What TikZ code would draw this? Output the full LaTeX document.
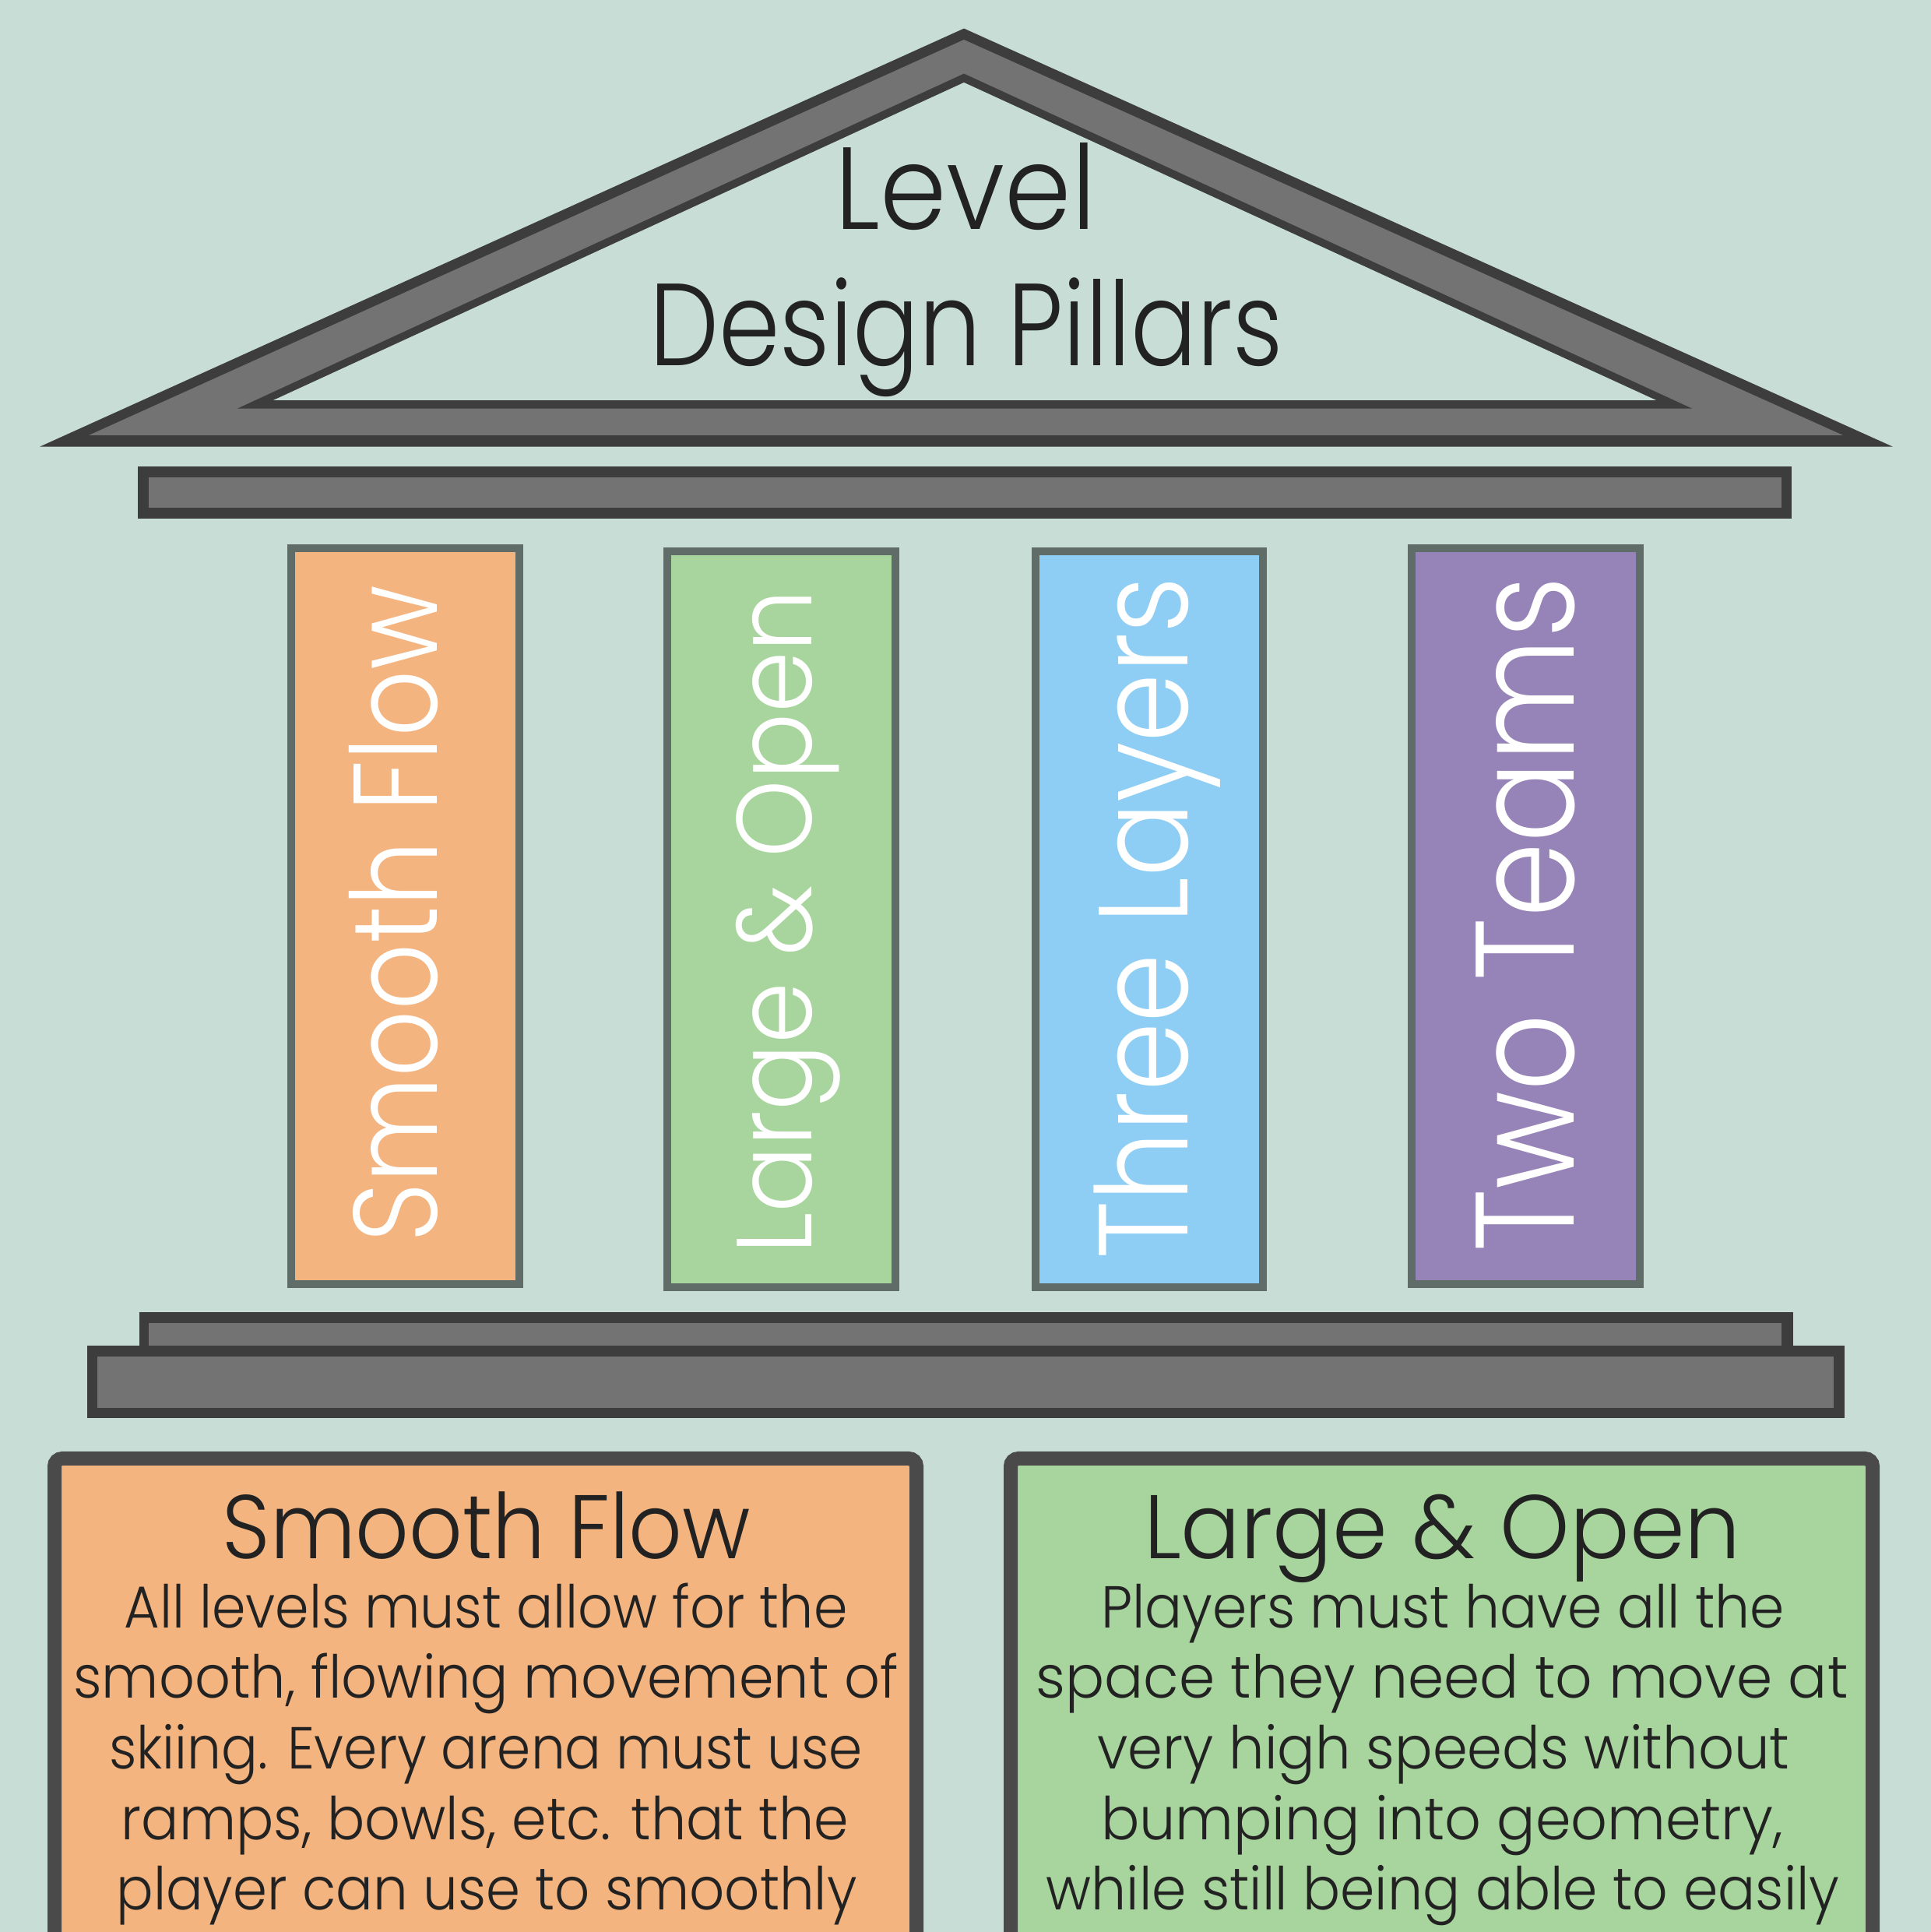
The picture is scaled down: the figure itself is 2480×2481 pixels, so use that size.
\documentclass[tikz,border=0pt]{standalone}
\usepackage{graphicx}
\usepackage{fontspec}
\IfFontExistsTF{Poppins Light}{\setmainfont{Poppins Light}}{\setmainfont{Poppins}}
\definecolor{bgc}{HTML}{C7DDD6}
\definecolor{roofgray}{HTML}{737373}
\definecolor{roofdark}{HTML}{3D3D3D}
\definecolor{pillarline}{HTML}{606C67}
\definecolor{pOrange}{HTML}{F4B47F}
\definecolor{pGreen}{HTML}{A8D59D}
\definecolor{pBlue}{HTML}{8FCEF4}
\definecolor{pPurple}{HTML}{9683B7}
\definecolor{boxline}{HTML}{4A4A4A}
\definecolor{inkc}{HTML}{222222}
\newcommand{\fitw}[3]{\resizebox{#1pt}{\height}{\fontsize{#2pt}{#2pt}\selectfont #3}}
\tikzset{
  pillarbox/.style={draw=pillarline, line width=10pt},
  pillartext/.style={rotate=90, anchor=base, inner sep=0pt, text=white},
  infobox/.style={draw=boxline, line width=18pt, rounded corners=10pt},
  txt/.style={anchor=base, inner sep=0pt, text=inkc}
}
\begin{document}
\begin{tikzpicture}[x=1pt,y=1pt]
\useasboundingbox (0,0) rectangle (2480,2481);
\clip (0,0) rectangle (2480,2481);
\fill[bgc] (0,0) rectangle (2480,2481);
% roof
\fill[roofdark] (1238,2444.4) -- (51,1907.3) -- (2431,1907.3) -- cycle;
\fill[roofgray] (1238,2430) -- (114,1922) -- (2367,1922) -- cycle;
\fill[roofdark] (1238,2386.4) -- (305,1956.4) -- (2173,1956.4) -- cycle;
\fill[bgc] (1238,2375) -- (351,1967) -- (2127,1967) -- cycle;
\node[txt] (title1) at (1240,2186.4) {\fitw{335}{150}{Level}};
\node[txt] (title2) at (1241,2011) {\fitw{813}{150}{Design Pillars}};
% beam
\fill[roofdark] (177,1815) rectangle (2301,1882);
\fill[roofgray] (191,1829) rectangle (2288,1868);
% pillars
\draw[pillarbox, fill=pOrange] (374,832) rectangle (667,1777);
\draw[pillarbox, fill=pGreen] (857,828) rectangle (1150,1773);
\draw[pillarbox, fill=pBlue] (1330,828) rectangle (1622,1773);
\draw[pillarbox, fill=pPurple] (1813,832) rectangle (2106,1777);
\node[pillartext] (pt1) at (561,1307) {\fitw{844}{153}{Smooth Flow}};
\node[pillartext] (pt2) at (1042,1297) {\fitw{854}{137}{Large \& Open}};
\node[pillartext] (pt3) at (1525,1302) {\fitw{876}{163}{Three Layers}};
\node[pillartext] (pt4) at (2021,1306.5) {\fitw{867}{180}{Two Teams}};
% base steps
\fill[roofdark] (179,753) rectangle (2303,796);
\fill[roofgray] (191,753) rectangle (2288,782);
\fill[roofdark] (112,660) rectangle (2369,753);
\fill[roofgray] (125,673) rectangle (2355,739);
% info boxes
\draw[infobox, fill=pOrange] (70,-100) rectangle (1177,2481-1873);
\draw[infobox, fill=pGreen] (1298,-100) rectangle (2405,2481-1873);
\node[txt] (h1) at (625,479.5) {\fitw{678}{116}{Smooth Flow}};
\node[txt] (a1) at (624,390) {\fitw{929}{76}{All levels must allow for the}};
\node[txt] (a2) at (624,300) {\fitw{1059}{76}{smooth, flowing movement of}};
\node[txt] (a3) at (624,209) {\fitw{968}{76}{skiing. Every arena must use}};
\node[txt] (a4) at (623,118) {\fitw{934}{76}{ramps, bowls, etc. that the}};
\node[txt] (a5) at (625,28) {\fitw{951}{76}{player can use to smoothly}};
\node[txt] (h2) at (1852.5,479.5) {\fitw{767}{116}{Large \& Open}};
\node[txt] (b1) at (1853,390) {\fitw{878}{76}{Players must have all the}};
\node[txt] (b2) at (1852,300) {\fitw{1043}{76}{space they need to move at}};
\node[txt] (b3) at (1854,209) {\fitw{889}{76}{very high speeds without}};
\node[txt] (b4) at (1852,118) {\fitw{876}{76}{bumping into geometry,}};
\node[txt] (b5) at (1853,28) {\fitw{1019}{76}{while still being able to easily}};
\end{tikzpicture}
\end{document}
